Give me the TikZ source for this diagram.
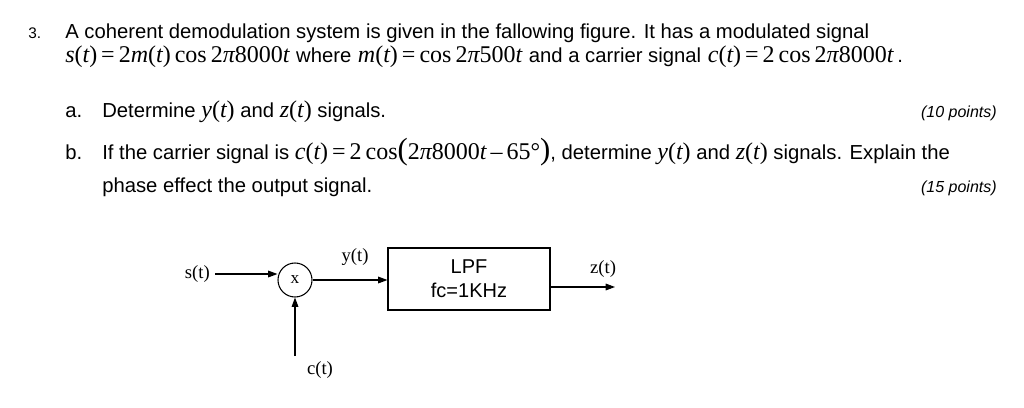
\documentclass[tikz,border=0pt]{standalone}
\usepackage{fontspec}
\setmainfont{Liberation Sans}
\newfontfamily\tm{Liberation Serif}
\usetikzlibrary{arrows.meta}
\newcommand\mi[1]{{\tm\itshape #1}}
\newcommand\mup[1]{{\tm #1}}
\newcommand\mf{\fontsize{18}{20}\selectfont}
\newcommand\tf{\fontsize{15.2}{18}\selectfont}
\begin{document}
\begin{tikzpicture}[x=0.75pt,y=-0.75pt,font=\tf,
  txt/.style={anchor=base west,inner sep=0},
  arr/.style={-{Triangle[length=7pt,width=5pt]},line width=0.8pt}]
\useasboundingbox (0,0) rectangle (1024,407);
\node[txt,font=\fontsize{11.5}{12}\selectfont] (n3) at (28,38) {3.};
\node[txt] (l1) at (65,38) {A coherent demodulation system is given in the fallowing figure. It has a modulated signal};
\node[txt,font=\mf] (l2) at (65,62) {\mi{s}\mup{(}\mi{t}\mup{)\,=\,2}\mi{m}\mup{(}\mi{t}\mup{)\,cos\,2}\mi{π}\mup{8000}\mi{t}\ {\tf where} \mi{m}\mup{(}\mi{t}\mup{)\,=\,cos\,2}\mi{π}\mup{500}\mi{t} {\tf and a carrier signal} \mi{c}\mup{(}\mi{t}\mup{)\,=\,2\,cos\,2}\mi{π}\mup{8000}\mi{t}\,{\tf .}};
\node[txt] (a) at (65,117) {a.};
\node[txt] (la) at (102,117) {Determine {\mf\mi{y}\mup{(}\mi{t}\mup{)}} and {\mf\mi{z}\mup{(}\mi{t}\mup{)}} signals.};
\node[anchor=base east,inner sep=0,font=\fontsize{12}{12}\itshape] (p1) at (997,117) {(10 points)};
\node[txt] (b) at (65,159) {b.};
\node[txt] (lb) at (102,159) {If the carrier signal is {\mf\mi{c}\mup{(}\mi{t}\mup{)\,=\,2\,cos}{\fontsize{23}{23}\selectfont\mup{(}}\mup{2}\mi{π}\mup{8000}\mi{t}\mup{\,–\,65°}{\fontsize{23}{23}\selectfont\mup{)}}}, determine {\mf\mi{y}\mup{(}\mi{t}\mup{)}} and {\mf\mi{z}\mup{(}\mi{t}\mup{)}} signals. Explain the};
\node[txt] (lb2) at (102,192) {phase effect the output signal.};
\node[anchor=base east,inner sep=0,font=\fontsize{12}{12}\itshape] (p2) at (997,192) {(15 points)};
% diagram
\node[font=\tm\fontsize{14}{16}\selectfont,anchor=east,inner sep=0] (s) at (210,274) {s(t)};
\node[draw,circle,inner sep=0,line width=0.8pt,minimum size=25.5pt,font=\tm\fontsize{13}{14}\selectfont] (m) at (295,280) {x};
\coordinate (s0) at (215,274);
\draw[arr] (s0) -- (s0-|m.west) ;
\node[draw,line width=0.8pt,minimum width=121.5pt,minimum height=46.5pt,align=center,font=\fontsize{15}{17}\selectfont] (lpf) at (469,279) {LPF\\[1pt]fc=1KHz};
\draw[arr] (m.east) -- (m.east-|lpf.west);
\node[font=\tm\fontsize{14}{16}\selectfont] (y) at (355,257) {y(t)};
\coordinate (zo) at (615,287);
\draw[arr] (lpf.east|-zo) -- (zo);
\node[font=\tm\fontsize{14}{16}\selectfont] (z) at (603,269) {z(t)};
\coordinate (c0) at (295,356);
\draw[arr] (c0) -- (m.south);
\node[font=\tm\fontsize{14}{16}\selectfont] (c) at (320,370) {c(t)};
\end{tikzpicture}
\end{document}
